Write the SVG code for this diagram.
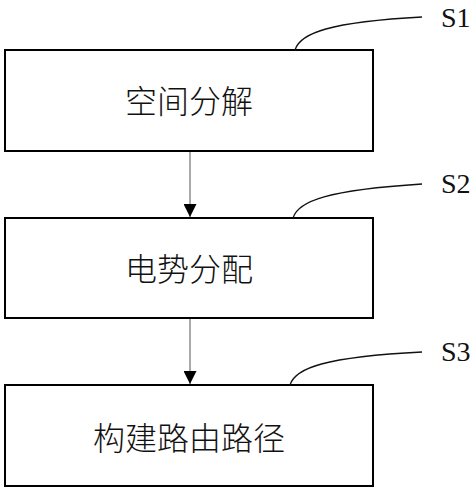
<svg xmlns="http://www.w3.org/2000/svg" width="474" height="490" viewBox="0 0 474 490">
<style>
.box{fill:#fff;stroke:#000;stroke-width:2}
.lbl{font-family:"Noto Sans CJK SC","Noto Sans CJK JP",sans-serif;font-size:32px;font-weight:300;fill:#111;text-anchor:middle}
.step{font-family:"Liberation Serif","Times New Roman",serif;font-size:28px;fill:#111}
.lead{fill:none;stroke:#111;stroke-width:1.3}
.conn{fill:none;stroke:#555;stroke-width:1}
</style>
<defs>
<marker id="ah" markerWidth="13" markerHeight="13" refX="13" refY="6.5" orient="auto" markerUnits="userSpaceOnUse">
<path d="M0,0 L13,6.5 L0,13 Z" fill="#000"/>
</marker>
</defs>
<rect width="474" height="490" fill="#fff"/>
<g id="connectors">
<line class="conn" x1="190" y1="151" x2="190" y2="217" marker-end="url(#ah)"/>
<line class="conn" x1="190" y1="318" x2="190" y2="384" marker-end="url(#ah)"/>
</g>
<g id="node-s1">
<rect class="box" x="5" y="50" width="368" height="101"/>
<text class="lbl" x="189" y="113">空间分解</text>
<path class="lead" d="M295,50 C300,33 330,22 422,17"/>
<text class="step" x="441" y="27">S1</text>
</g>
<g id="node-s2">
<rect class="box" x="5" y="218" width="368" height="100"/>
<text class="lbl" x="189" y="281">电势分配</text>
<path class="lead" d="M293,218 C298,201 328,190 422,184"/>
<text class="step" x="441" y="193">S2</text>
</g>
<g id="node-s3">
<rect class="box" x="5" y="385" width="368" height="101"/>
<text class="lbl" x="189" y="450">构建路由路径</text>
<path class="lead" d="M290,385 C295,368 325,357 422,352"/>
<text class="step" x="441" y="361">S3</text>
</g>
</svg>
